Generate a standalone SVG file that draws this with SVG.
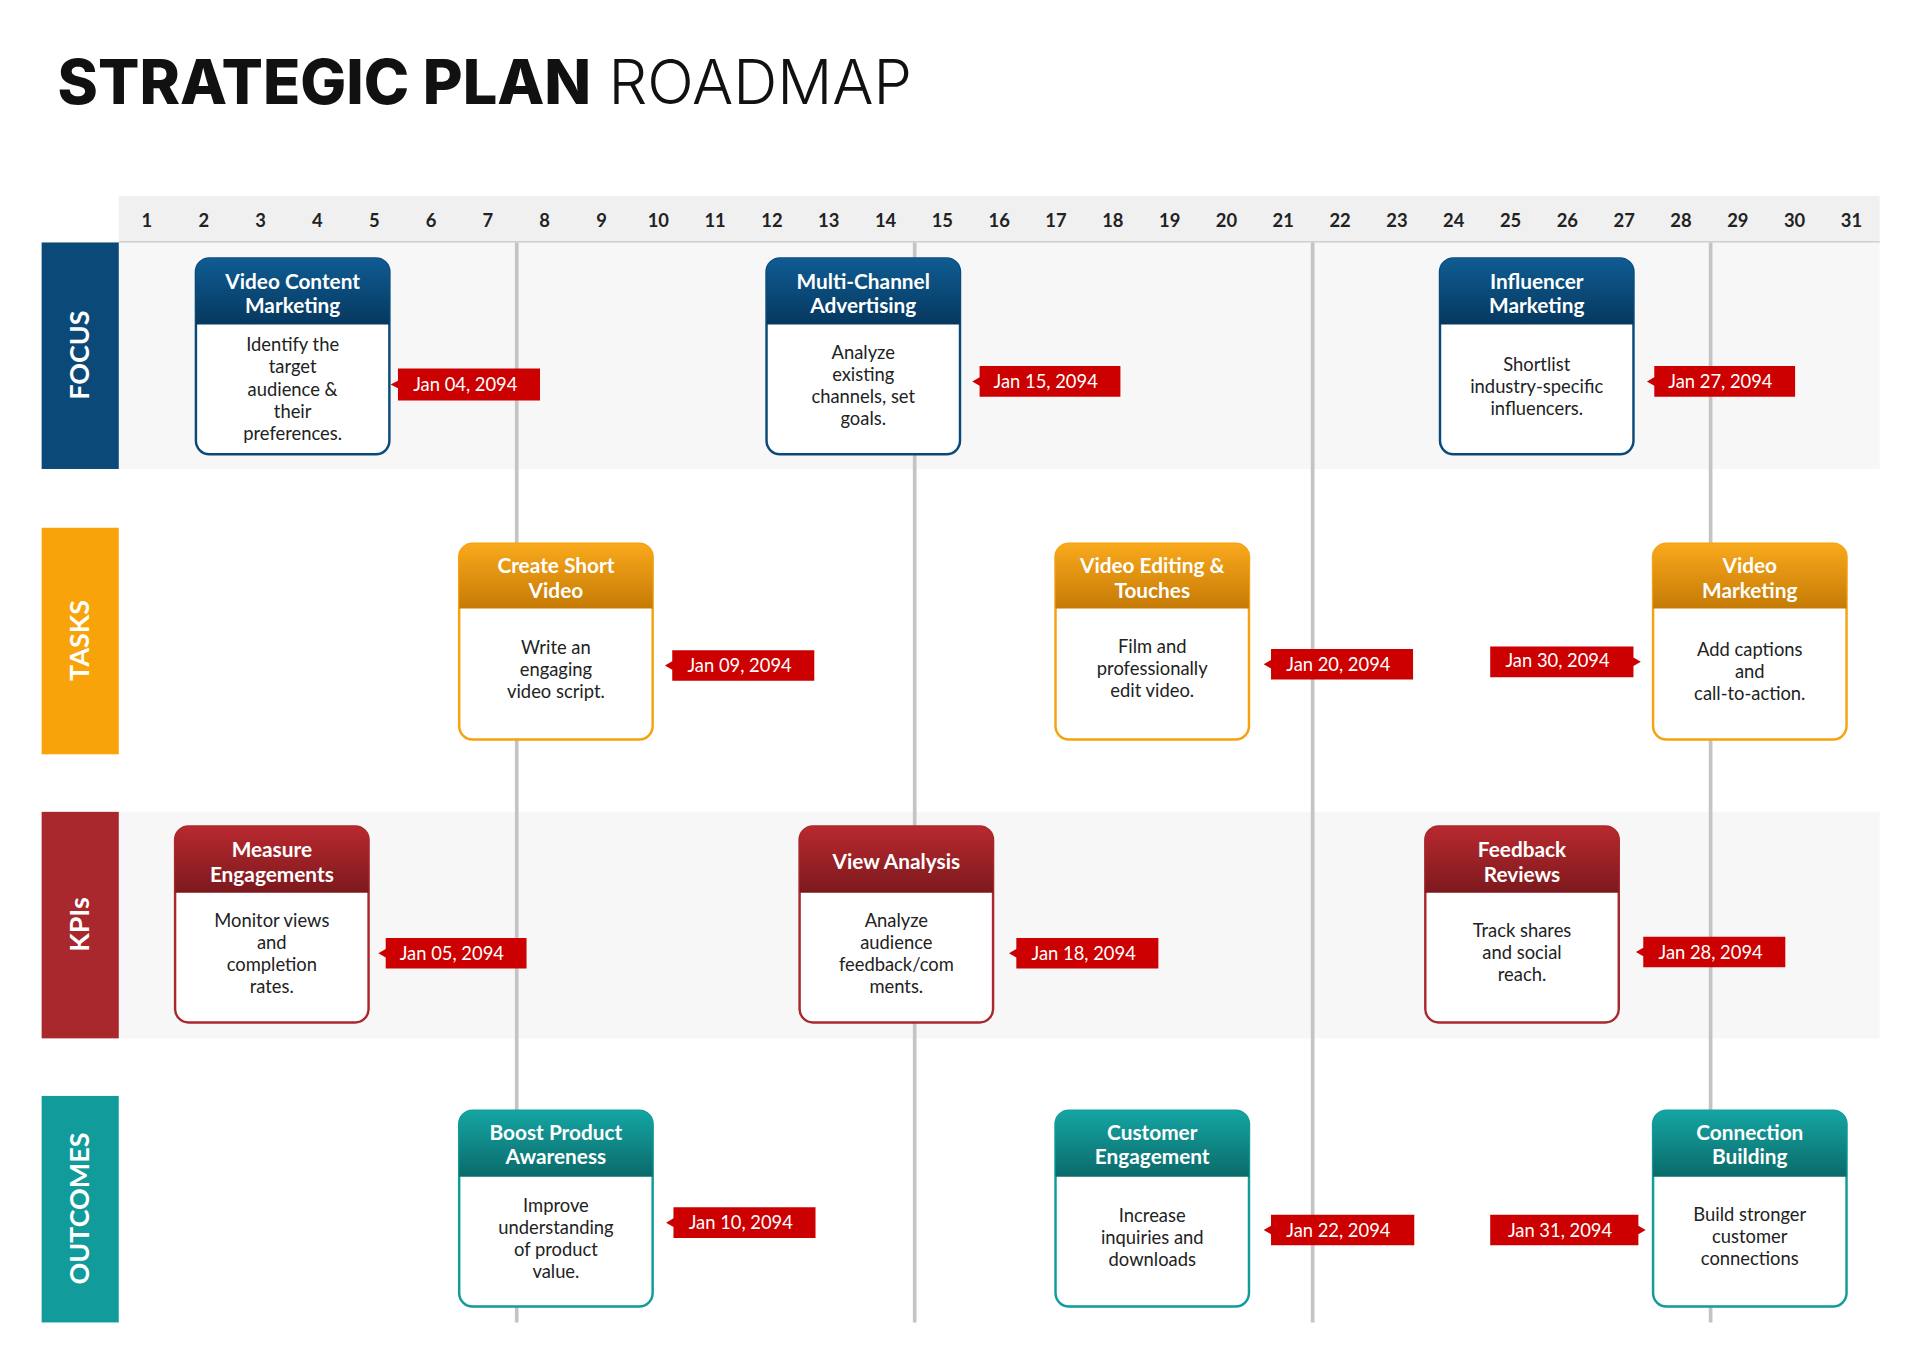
<svg xmlns="http://www.w3.org/2000/svg" width="1920" height="1358" viewBox="0 0 1920 1358">
<defs>
<linearGradient id="gB" x1="0" y1="0" x2="0" y2="1"><stop offset="0" stop-color="#0f5c93"/><stop offset="1" stop-color="#06385f"/></linearGradient>
<linearGradient id="gO" x1="0" y1="0" x2="0" y2="1"><stop offset="0" stop-color="#f9a91c"/><stop offset="1" stop-color="#c57a05"/></linearGradient>
<linearGradient id="gR" x1="0" y1="0" x2="0" y2="1"><stop offset="0" stop-color="#b8292f"/><stop offset="1" stop-color="#7c191d"/></linearGradient>
<linearGradient id="gT" x1="0" y1="0" x2="0" y2="1"><stop offset="0" stop-color="#15a5a3"/><stop offset="1" stop-color="#0a6a6a"/></linearGradient>
<style>
text{font-family:"Lato","Open Sans","Liberation Sans",sans-serif}
.day{font-size:15px;font-weight:700;fill:#222;text-anchor:middle}
.lab{font-size:22px;font-weight:700;fill:#fff;text-anchor:middle}
.hd{font-size:17px;font-weight:700;fill:#fff;text-anchor:middle}
.bd{font-size:15px;fill:#222;text-anchor:middle}
.dt{font-size:15px;fill:#fff;text-anchor:middle}
.tag{fill:#cc0000}
.vl{stroke:#c4c4c4;stroke-width:3}
.card{fill:#fff;stroke-width:2}
</style>
</defs>
<rect width="1920" height="1358" fill="#fff"/>
<g transform="scale(1.22449)">
<text x="47" y="85" style="font-family:Inter,'Liberation Sans',sans-serif;font-size:50px;fill:#111"><tspan font-weight="800">STRATEGIC PLAN</tspan><tspan font-weight="300"> ROADMAP</tspan></text>
<g id="header">
<rect x="97" y="160" width="1438" height="38" fill="#f0f0f0"/>
<line x1="97" y1="198" x2="1535" y2="198" stroke="#c4c4c4" stroke-width="2"/>
<text class="day" y="185"><tspan x="120">1</tspan><tspan x="166.4">2</tspan><tspan x="212.8">3</tspan><tspan x="259.2">4</tspan><tspan x="305.6">5</tspan><tspan x="352">6</tspan><tspan x="398.4">7</tspan><tspan x="444.8">8</tspan><tspan x="491.2">9</tspan><tspan x="537.6">10</tspan><tspan x="584">11</tspan><tspan x="630.4">12</tspan><tspan x="676.8">13</tspan><tspan x="723.2">14</tspan><tspan x="769.6">15</tspan><tspan x="816">16</tspan><tspan x="862.4">17</tspan><tspan x="908.8">18</tspan><tspan x="955.2">19</tspan><tspan x="1001.6">20</tspan><tspan x="1048">21</tspan><tspan x="1094.4">22</tspan><tspan x="1140.8">23</tspan><tspan x="1187.2">24</tspan><tspan x="1233.6">25</tspan><tspan x="1280">26</tspan><tspan x="1326.4">27</tspan><tspan x="1372.8">28</tspan><tspan x="1419.2">29</tspan><tspan x="1465.6">30</tspan><tspan x="1512">31</tspan></text>
</g>
<g id="lanes">
<rect x="97" y="198" width="1438" height="185" fill="#f7f7f7"/>
<rect x="97" y="663" width="1438" height="185" fill="#f7f7f7"/>
<rect x="34" y="198" width="63" height="185" fill="#0b4a78"/>
<rect x="34" y="431" width="63" height="185" fill="#f9a30a"/>
<rect x="34" y="663" width="63" height="185" fill="#a8282d"/>
<rect x="34" y="895" width="63" height="185" fill="#129b9b"/>
<text class="lab" transform="translate(73,290) rotate(-90)">FOCUS</text>
<text class="lab" transform="translate(73,523) rotate(-90)">TASKS</text>
<text class="lab" transform="translate(73,755) rotate(-90)">KPIs</text>
<text class="lab" transform="translate(73,987) rotate(-90)">OUTCOMES</text>
</g>
<g id="connectors">
<line class="vl" x1="422" y1="198" x2="422" y2="1080"/>
<line class="vl" x1="747" y1="198" x2="747" y2="1080"/>
<line class="vl" x1="1072" y1="198" x2="1072" y2="1080"/>
<line class="vl" x1="1397" y1="198" x2="1397" y2="1080"/>
</g>
<!-- FOCUS -->
<g id="n-vcm"><rect class="card" x="160" y="211" width="158" height="160" rx="11" stroke="#0b4a78"/><path d="M160 265V222a11 11 0 0 1 11-11h136a11 11 0 0 1 11 11v43z" fill="url(#gB)"/><text class="hd" x="239"><tspan y="236" x="239">Video Content</tspan><tspan y="256" x="239">Marketing</tspan></text><text class="bd"><tspan x="239" y="287">Identify the</tspan><tspan x="239" y="305">target</tspan><tspan x="239" y="323">audience &amp;</tspan><tspan x="239" y="341">their</tspan><tspan x="239" y="359">preferences.</tspan></text></g>
<g id="n-mca"><rect class="card" x="626" y="211" width="158" height="160" rx="11" stroke="#0b4a78"/><path d="M626 265V222a11 11 0 0 1 11-11h136a11 11 0 0 1 11 11v43z" fill="url(#gB)"/><text class="hd"><tspan y="236" x="705">Multi-Channel</tspan><tspan y="256" x="705">Advertising</tspan></text><text class="bd"><tspan x="705" y="293">Analyze</tspan><tspan x="705" y="311">existing</tspan><tspan x="705" y="329">channels, set</tspan><tspan x="705" y="347">goals.</tspan></text></g>
<g id="n-im"><rect class="card" x="1176" y="211" width="158" height="160" rx="11" stroke="#0b4a78"/><path d="M1176 265V222a11 11 0 0 1 11-11h136a11 11 0 0 1 11 11v43z" fill="url(#gB)"/><text class="hd"><tspan y="236" x="1255">Influencer</tspan><tspan y="256" x="1255">Marketing</tspan></text><text class="bd"><tspan x="1255" y="303">Shortlist</tspan><tspan x="1255" y="321">industry-specific</tspan><tspan x="1255" y="339">influencers.</tspan></text></g>
<!-- TASKS -->
<g id="n-csv"><rect class="card" x="375" y="444" width="158" height="160" rx="11" stroke="#f5a20f"/><path d="M375 497V455a11 11 0 0 1 11-11h136a11 11 0 0 1 11 11v42z" fill="url(#gO)"/><text class="hd"><tspan y="468" x="454">Create Short</tspan><tspan y="488" x="454">Video</tspan></text><text class="bd"><tspan x="454" y="534">Write an</tspan><tspan x="454" y="552">engaging</tspan><tspan x="454" y="570">video script.</tspan></text></g>
<g id="n-vet"><rect class="card" x="862" y="444" width="158" height="160" rx="11" stroke="#f5a20f"/><path d="M862 497V455a11 11 0 0 1 11-11h136a11 11 0 0 1 11 11v42z" fill="url(#gO)"/><text class="hd"><tspan y="468" x="941">Video Editing &amp;</tspan><tspan y="488" x="941">Touches</tspan></text><text class="bd"><tspan x="941" y="533">Film and</tspan><tspan x="941" y="551">professionally</tspan><tspan x="941" y="569">edit video.</tspan></text></g>
<g id="n-vm"><rect class="card" x="1350" y="444" width="158" height="160" rx="11" stroke="#f5a20f"/><path d="M1350 497V455a11 11 0 0 1 11-11h136a11 11 0 0 1 11 11v42z" fill="url(#gO)"/><text class="hd"><tspan y="468" x="1429">Video</tspan><tspan y="488" x="1429">Marketing</tspan></text><text class="bd"><tspan x="1429" y="536">Add captions</tspan><tspan x="1429" y="554">and</tspan><tspan x="1429" y="572">call-to-action.</tspan></text></g>
<!-- KPIs -->
<g id="n-me"><rect class="card" x="143" y="675" width="158" height="160" rx="11" stroke="#a8282d"/><path d="M143 729V686a11 11 0 0 1 11-11h136a11 11 0 0 1 11 11v43z" fill="url(#gR)"/><text class="hd"><tspan y="700" x="222">Measure</tspan><tspan y="720" x="222">Engagements</tspan></text><text class="bd"><tspan x="222" y="757">Monitor views</tspan><tspan x="222" y="775">and</tspan><tspan x="222" y="793">completion</tspan><tspan x="222" y="811">rates.</tspan></text></g>
<g id="n-va"><rect class="card" x="653" y="675" width="158" height="160" rx="11" stroke="#a8282d"/><path d="M653 729V686a11 11 0 0 1 11-11h136a11 11 0 0 1 11 11v43z" fill="url(#gR)"/><text class="hd" x="732" y="710">View Analysis</text><text class="bd"><tspan x="732" y="757">Analyze</tspan><tspan x="732" y="775">audience</tspan><tspan x="732" y="793">feedback/com</tspan><tspan x="732" y="811">ments.</tspan></text></g>
<g id="n-fr"><rect class="card" x="1164" y="675" width="158" height="160" rx="11" stroke="#a8282d"/><path d="M1164 729V686a11 11 0 0 1 11-11h136a11 11 0 0 1 11 11v43z" fill="url(#gR)"/><text class="hd"><tspan y="700" x="1243">Feedback</tspan><tspan y="720" x="1243">Reviews</tspan></text><text class="bd"><tspan x="1243" y="765">Track shares</tspan><tspan x="1243" y="783">and social</tspan><tspan x="1243" y="801">reach.</tspan></text></g>
<!-- OUTCOMES -->
<g id="n-bpa"><rect class="card" x="375" y="907" width="158" height="160" rx="11" stroke="#129b9b"/><path d="M375 961V918a11 11 0 0 1 11-11h136a11 11 0 0 1 11 11v43z" fill="url(#gT)"/><text class="hd"><tspan y="931" x="454">Boost Product</tspan><tspan y="951" x="454">Awareness</tspan></text><text class="bd"><tspan x="454" y="990">Improve</tspan><tspan x="454" y="1008">understanding</tspan><tspan x="454" y="1026">of product</tspan><tspan x="454" y="1044">value.</tspan></text></g>
<g id="n-ce"><rect class="card" x="862" y="907" width="158" height="160" rx="11" stroke="#129b9b"/><path d="M862 961V918a11 11 0 0 1 11-11h136a11 11 0 0 1 11 11v43z" fill="url(#gT)"/><text class="hd"><tspan y="931" x="941">Customer</tspan><tspan y="951" x="941">Engagement</tspan></text><text class="bd"><tspan x="941" y="998">Increase</tspan><tspan x="941" y="1016">inquiries and</tspan><tspan x="941" y="1034">downloads</tspan></text></g>
<g id="n-cb"><rect class="card" x="1350" y="907" width="158" height="160" rx="11" stroke="#129b9b"/><path d="M1350 961V918a11 11 0 0 1 11-11h136a11 11 0 0 1 11 11v43z" fill="url(#gT)"/><text class="hd"><tspan y="931" x="1429">Connection</tspan><tspan y="951" x="1429">Building</tspan></text><text class="bd"><tspan x="1429" y="997">Build stronger</tspan><tspan x="1429" y="1015">customer</tspan><tspan x="1429" y="1033">connections</tspan></text></g>
<!-- date tags -->
<g id="tags">
<path class="tag" d="M325 301h116v26h-116v-10l-6 -3 6-3z"/><text class="dt" x="380" y="319">Jan 04, 2094</text>
<path class="tag" d="M800 299h115v25h-115v-9l-6 -3.5 6-3.5z"/><text class="dt" x="854" y="317">Jan 15, 2094</text>
<path class="tag" d="M1351 299h115v25h-115v-9l-6 -3.5 6-3.5z"/><text class="dt" x="1405" y="317">Jan 27, 2094</text>
<path class="tag" d="M549 531h116v25h-116v-9l-6 -3.5 6-3.5z"/><text class="dt" x="604" y="549">Jan 09, 2094</text>
<path class="tag" d="M1038 530h116v25h-116v-9l-6 -3.5 6-3.5z"/><text class="dt" x="1093" y="548">Jan 20, 2094</text>
<path class="tag" d="M1217 528h117v9l6 3.5-6 3.5v9h-117z"/><text class="dt" x="1272" y="545">Jan 30, 2094</text>
<path class="tag" d="M315 766h115v25h-115v-9l-6 -3.5 6-3.5z"/><text class="dt" x="369" y="784">Jan 05, 2094</text>
<path class="tag" d="M830 766h116v25h-116v-9l-6 -3.5 6-3.5z"/><text class="dt" x="885" y="784">Jan 18, 2094</text>
<path class="tag" d="M1342 765h116v25h-116v-9l-6 -3.5 6-3.5z"/><text class="dt" x="1397" y="783">Jan 28, 2094</text>
<path class="tag" d="M550 986h116v25h-116v-9l-6 -3.5 6-3.5z"/><text class="dt" x="605" y="1004">Jan 10, 2094</text>
<path class="tag" d="M1038 992h117v25h-117v-9l-6 -3.5 6-3.5z"/><text class="dt" x="1093" y="1010">Jan 22, 2094</text>
<path class="tag" d="M1217 992h121v9l6 3.5-6 3.5v9h-121z"/><text class="dt" x="1274" y="1010">Jan 31,  2094</text>
</g>
</g>
</svg>
